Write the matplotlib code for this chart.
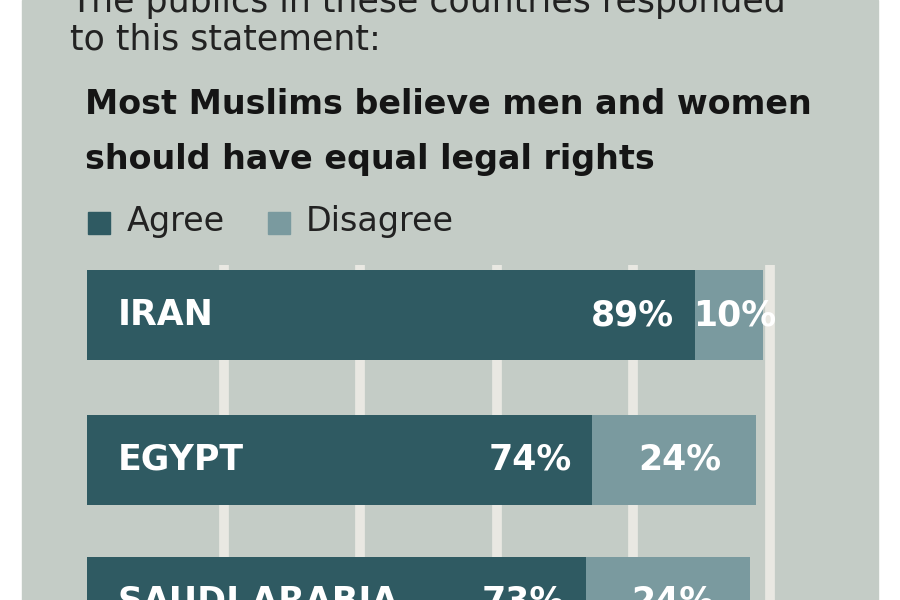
import matplotlib.pyplot as plt
from matplotlib.patches import Rectangle

countries = ["IRAN", "EGYPT", "SAUDI ARABIA"]
agree = [89, 74, 73]
disagree = [10, 24, 24]
ticks = [20, 40, 60, 80, 100]

dark = "#2f5a62"
light = "#7a9a9f"
panel = "#c4ccc6"
grid = "#e9e8e2"
fam = ["DejaVu Sans Condensed", "DejaVu Sans"]

fig = plt.figure(figsize=(9, 6), dpi=100)
ax = fig.add_axes([0, 0, 1, 1])
# 0% at x=87px, 100% at x=770px
ppp = (770 - 87) / 100
ax.set_xlim(-87 / ppp, (900 - 87) / ppp)
ax.set_ylim(600, 0)
ax.axis("off")

x0 = -87 / ppp
ax.add_patch(Rectangle((x0 + 22 / ppp, 0), 856 / ppp, 600, color=panel, zorder=0))

for t in ticks:
    ax.plot([t, t], [265, 600], color=grid, lw=7, zorder=1, solid_capstyle="butt")

centers = [315, 460, 602]
for c, name, a, d in zip(centers, countries, agree, disagree):
    ax.barh(c, a, height=90, color=dark, zorder=2)
    ax.barh(c, d, left=a, height=90, color=light, zorder=2)
    ax.text(4.5, c, name, color="white", fontsize=25, fontweight="bold",
            va="center", family=fam, zorder=3)
    ax.text(a - 3, c, f"{a}%", color="white", fontsize=25, fontweight="bold",
            va="center", ha="right", family=fam, zorder=3)
    ax.text(a + d / 2 + 0.8, c, f"{d}%", color="white", fontsize=25, fontweight="bold",
            va="center", ha="center", family=fam, zorder=3)

fig.text(70 / 900, 1 - 2 / 600, "The publics in these countries responded", fontsize=25,
         va="center", family=fam, color="#222222")
fig.text(70 / 900, 1 - 40 / 600, "to this statement:", fontsize=25,
         va="center", family=fam, color="#222222")
fig.text(85 / 900, 1 - 104 / 600, "Most Muslims believe men and women", fontsize=24,
         fontweight="bold", va="center", family=fam, color="#151515")
fig.text(85 / 900, 1 - 160 / 600, "should have equal legal rights", fontsize=24,
         fontweight="bold", va="center", family=fam, color="#151515")

fig.patches.append(Rectangle((88 / 900, 1 - 234 / 600), 22 / 900, 22 / 600,
                             color=dark, transform=fig.transFigure, figure=fig))
fig.text(127 / 900, 1 - 222 / 600, "Agree", fontsize=24, va="center", family=fam, color="#222222")
fig.patches.append(Rectangle((268 / 900, 1 - 234 / 600), 22 / 900, 22 / 600,
                             color=light, transform=fig.transFigure, figure=fig))
fig.text(306 / 900, 1 - 222 / 600, "Disagree", fontsize=24, va="center", family=fam, color="#222222")

fig.savefig("out.png", dpi=100, facecolor="white")
